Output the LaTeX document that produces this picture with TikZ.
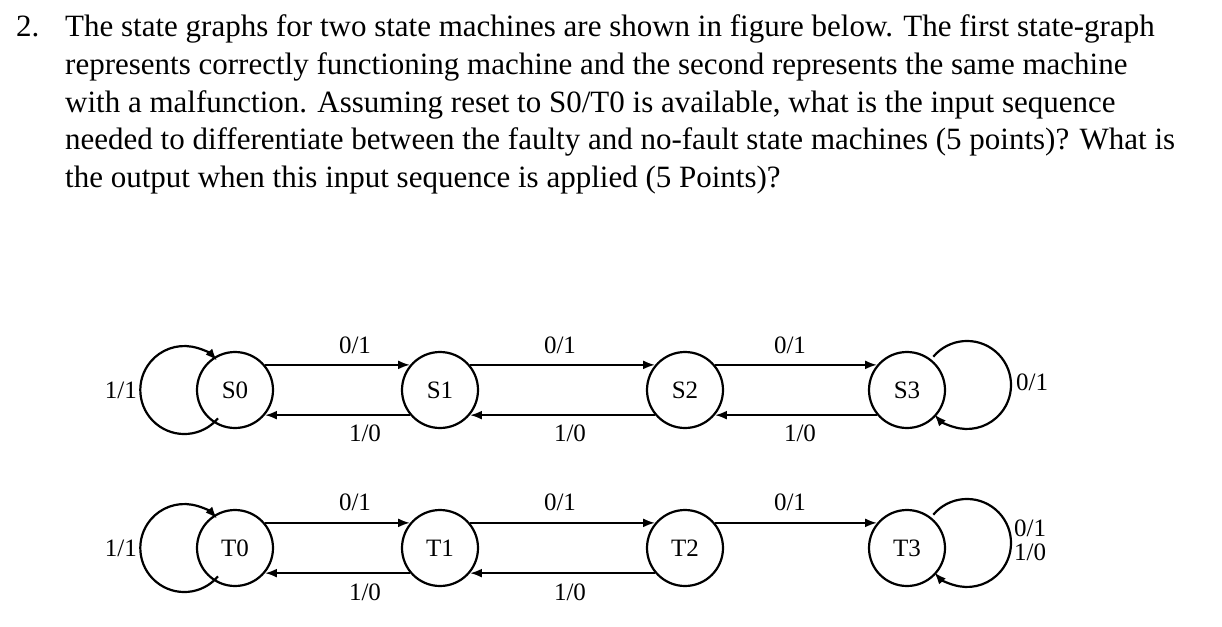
\documentclass[tikz,border=0pt]{standalone}
\usepackage{fontspec}
\setmainfont{Liberation Serif}
\usetikzlibrary{arrows.meta}
\begin{document}
\begin{tikzpicture}[x=1pt,y=-1pt,
  st/.style={draw,line width=2.2pt,circle,minimum size=76pt,inner sep=0pt,font=\fontsize{25}{26}\selectfont},
  tr/.style={line width=2.2pt,-{Latex[length=12pt,width=9pt]}},
  lb/.style={font=\fontsize{25}{26}\selectfont,inner sep=1pt},
  txt/.style={anchor=base west,inner sep=0pt,font=\fontsize{31}{34}\selectfont}]
\useasboundingbox (0,0) rectangle (1222,626);
\node[txt] (n) at (16,37) {2.};
\node[txt] (l1) at (65,37) {The state graphs for two state machines are shown in figure below. The first state-graph};
\node[txt] (l2) at (65,74.5) {represents correctly functioning machine and the second represents the same machine};
\node[txt] (l3) at (65,112) {with a malfunction. Assuming reset to S0/T0 is available, what is the input sequence};
\node[txt] (l4) at (65,149.5) {needed to differentiate between the faulty and no-fault state machines (5 points)? What is};
\node[txt] (l5) at (65,187) {the output when this input sequence is applied (5 Points)?};
\foreach \n/\x in {S0/235,S1/440,S2/685,S3/907}{\node[st] (\n) at (\x,390) {\n};}
\foreach \n/\x in {T0/235,T1/440,T2/685,T3/907}{\node[st] (\n) at (\x,548) {\n};}
\foreach \a/\b in {S0/S1,S1/S2,S2/S3,T0/T1,T1/T2,T2/T3}{
  \draw[tr] (\a.40) -- (\b.140);
}
\foreach \a/\b in {S1/S0,S2/S1,S3/S2,T1/T0,T2/T1}{
  \draw[tr] (\a.220) -- (\b.-40);
}
\foreach \x in {355,560,790}{\node[lb] (u\x) at (\x,345) {0/1}; \node[lb] (d\x) at (\x+10,433) {1/0};}
\foreach \x in {355,560,790}{\node[lb] (v\x) at (\x,502) {0/1};}
\foreach \x in {365,570}{\node[lb] (w\x) at (\x,592) {1/0};}
% self loops
\draw[tr] ([shift={(-17,28.3)}]S0.center) arc[start angle=40,end angle=318,radius=44];
\draw[tr] ([shift={(-17,28.3)}]T0.center) arc[start angle=40,end angle=318,radius=44];
\draw[tr] ([shift={(26.3,-33.3)}]S3.center) arc[start angle=220,end angle=498,radius=44];
\draw[tr] ([shift={(26.3,-33.3)}]T3.center) arc[start angle=220,end angle=498,radius=44];
\node[lb,anchor=east] (ls0) at (138,390) {1/1};
\node[lb,anchor=east] (lt0) at (138,548) {1/1};
\node[lb,anchor=west] (ls3) at (1015,382) {0/1};
\node[lb,anchor=west,align=left,font=\fontsize{25}{24}\selectfont] (lt3) at (1013,540) {0/1\\1/0};
\end{tikzpicture}
\end{document}
